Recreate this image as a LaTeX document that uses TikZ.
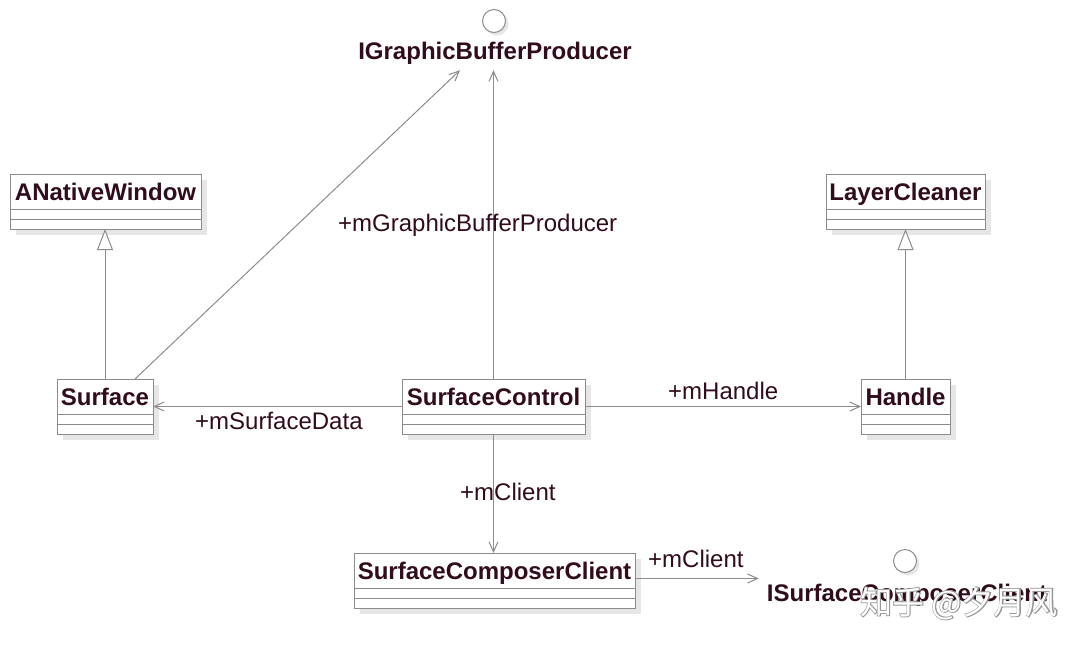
\documentclass[tikz,border=0pt]{standalone}
\usepackage{fontspec}
\setmainfont{Liberation Sans}
\font\wmfont="Noto Sans CJK SC" at 32pt
\font\wmfontbold="Noto Sans CJK SC:embolden=5" at 32pt
\usetikzlibrary{arrows.meta,calc}
\definecolor{umltext}{RGB}{48,12,28}
\definecolor{umlline}{RGB}{140,140,140}
\definecolor{umlshadow}{RGB}{230,230,230}
\definecolor{wmgray}{RGB}{150,150,150}
\tikzset{
  classbox/.style={draw=umlline, line width=1pt, fill=white, rectangle, inner sep=0pt, outer sep=0pt},
  divider/.style={draw=umlline, line width=1pt},
  classname/.style={font=\bfseries\fontsize{24}{28}\selectfont, text=umltext, inner sep=0pt, anchor=base},
  rolelabel/.style={font=\fontsize{24}{28}\selectfont, text=umltext, inner sep=0pt, anchor=base west},
  assoc/.style={draw=umlline, line width=1pt, -{Straight Barb[length=10pt,width=9pt]}},
  generalize/.style={draw=umlline, line width=1pt, -{Triangle[open, length=21pt, width=16pt, fill=white]}},
  iface/.style={circle, draw=umlline, fill=white, line width=1pt, minimum size=23pt, inner sep=0pt},
  watermark/.style={inner sep=0pt, anchor=base},
}
\newcommand\umlclass[5]{%
  \fill[umlshadow] (#2+6,#3+6) rectangle (#4+6,#3+61);
  \node[classbox, anchor=north west, minimum width={(#4)-(#2)}, minimum height=55] (#1) at (#2,#3) {};
  \draw[divider] ($(#1.north west)+(0,35)$) -- ($(#1.north east)+(0,35)$);
  \draw[divider] ($(#1.north west)+(0,45)$) -- ($(#1.north east)+(0,45)$);
  \node[classname] (#1-name) at ($(#1.north)+(0,26)$) {#5};
}
\begin{document}
\begin{tikzpicture}[x=1pt, y=-1pt]
\useasboundingbox (0,0) rectangle (1089,649);
\fill[white] (0,0) rectangle (1089,649);

% classes
\umlclass{anw}{10}{174}{201}{ANativeWindow}
\umlclass{lc}{826}{174}{985}{LayerCleaner}
\umlclass{surface}{57}{379}{153}{Surface}
\umlclass{sc}{402}{379}{585}{SurfaceControl}
\umlclass{handle}{861}{379}{950}{Handle}
\umlclass{scc}{354}{553}{635}{SurfaceComposerClient}

% interfaces
\fill[umlshadow] (497,24) circle (11.5);
\node[iface] (igbp-c) at (494,21) {};
\node[classname, inner sep=6pt] (igbp) at (495,59) {IGraphicBufferProducer};
\fill[umlshadow] (908,564) circle (11.5);
\node[iface] (iscc-c) at (905,561) {};
\node[classname, inner sep=8pt] (iscc) at (907,601) {ISurfaceComposerClient};

% connectors
\draw[generalize] (surface.north) -- (surface.north |- anw.south);
\draw[generalize] (handle.north) -- (handle.north |- lc.south);
\draw[assoc] (sc.north) -- (sc.north |- igbp.south);
\draw[assoc] ([xshift=30pt]surface.north) -- ([xshift=-35pt]igbp.south);
\draw[assoc] (sc.west) -- (surface.east);
\draw[assoc] (sc.east) -- (handle.west);
\draw[assoc] (sc.south) -- (sc.south |- scc.north);
\draw[assoc] ([yshift=2pt]scc.east) -- ([yshift=2pt]scc.east -| iscc.west);

% role labels
\node[rolelabel] (l-gbp) at (338,231) {+mGraphicBufferProducer};
\node[rolelabel] (l-sd) at (195,429) {+mSurfaceData};
\node[rolelabel] (l-h) at (668,399) {+mHandle};
\node[rolelabel] (l-c1) at (460,500) {+mClient};
\node[rolelabel] (l-c2) at (648,567) {+mClient};

% site watermark: grey emboldened copy under a white copy gives an outline
\node[watermark, text=wmgray, font=\wmfontbold] (wm-outline) at (959,614) {知乎 @夕月风};
\node[watermark, text=white, font=\wmfont] (wm) at (959,614) {知乎 @夕月风};
\end{tikzpicture}
\end{document}
